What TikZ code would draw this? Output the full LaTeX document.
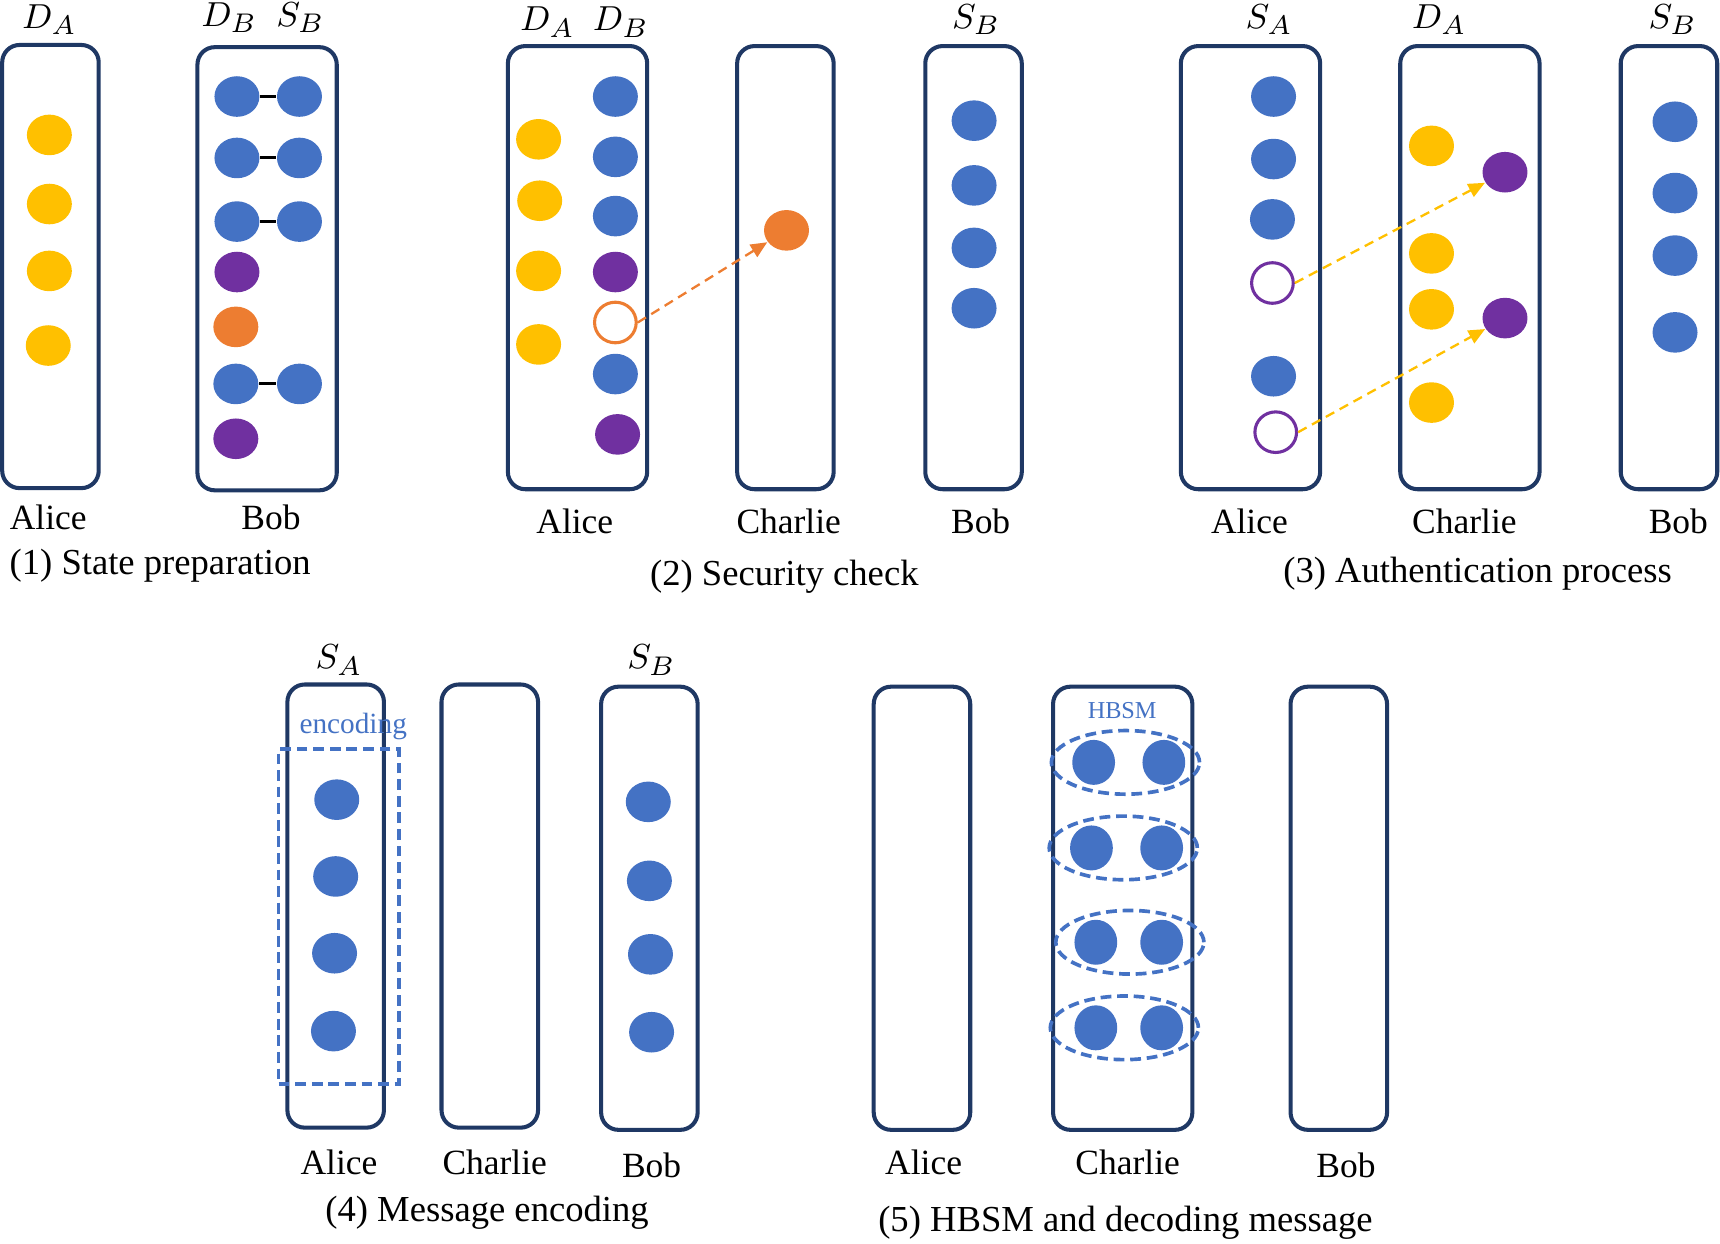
\documentclass[tikz,border=0pt]{standalone}
\usepackage{fontspec}
\setmainfont{Liberation Serif}
\usepackage{tikz}
\usetikzlibrary{arrows.meta,shapes.geometric}
\definecolor{framenavy}{RGB}{31,56,100}
\definecolor{qblue}{RGB}{68,114,196}
\definecolor{qyellow}{RGB}{255,192,0}
\definecolor{qpurple}{RGB}{112,48,160}
\definecolor{qorange}{RGB}{237,125,49}
\tikzset{
  party/.style={draw=framenavy,line width=1.05pt,rounded corners=4.5pt,
                minimum width=8.8mm,minimum height=40.4mm,inner sep=0pt},
  partywide/.style={party,minimum width=12.7mm},
  qubit/.style={ellipse,minimum width=4.1mm,minimum height=3.7mm,inner sep=0pt},
  blueq/.style={qubit,fill=qblue},
  yellowq/.style={qubit,fill=qyellow},
  purpleq/.style={qubit,fill=qpurple},
  orangeq/.style={qubit,fill=qorange},
  lostq/.style={qubit,draw,line width=0.8pt,fill=white,minimum width=3.8mm},
  link/.style={black,line width=0.8pt},
  flow/.style={-{Triangle[length=1.5mm,width=1.3mm]},dash pattern=on 2.5pt off 1.6pt,line width=0.6pt},
  who/.style={font=\fontsize{9.2}{10}\selectfont},
  caption/.style={font=\fontsize{9.5}{10}\selectfont},
  reg/.style={font=\fontsize{9.3}{10}\selectfont},
  op/.style={draw=qblue,dash pattern=on 2.8pt off 1.5pt,line width=0.95pt},
  optext/.style={text=qblue,inner sep=0pt},
}

\begin{document}
\begin{tikzpicture}[x=0.1mm,y=-0.1mm]
  \path[use as bounding box] (0,0) rectangle (1568,1134);

  % (1) state preparation
  \node[reg] (da1) at (45,18) {$D_A$};
  \node[party] (alice1) at (46,243) {};
  \node[yellowq] (a1y1) at (45,123) {};
  \node[yellowq] (a1y2) at (45,186) {};
  \node[yellowq] (a1y3) at (45,247) {};
  \node[yellowq] (a1y4) at (44,315) {};
  \node[who] at (44,472) {Alice};

  \node[reg] (db1) at (209,16) {$D_B$};
  \node[reg] (sb1) at (274,16) {$S_B$};
  \node[partywide] (bob1) at (243.5,245) {};
  \node[blueq] (b1d1) at (216,88) {};   \node[blueq] (b1s1) at (273,88) {};
  \node[blueq] (b1d2) at (216,144) {};  \node[blueq] (b1s2) at (273,144) {};
  \node[blueq] (b1d3) at (216,202) {};  \node[blueq] (b1s3) at (273,202) {};
  \node[purpleq] (b1p1) at (216,248) {};
  \node[orangeq] (b1o1) at (215,298) {};
  \node[blueq] (b1d4) at (215,350) {};  \node[blueq] (b1s4) at (273,350) {};
  \node[purpleq] (b1p2) at (215,400) {};
  \draw[link] (b1d1) -- (b1s1);
  \draw[link] (b1d2) -- (b1s2);
  \draw[link] (b1d3) -- (b1s3);
  \draw[link] (b1d4) -- (b1s4);
  \node[who] at (247,472) {Bob};
  \node[caption] at (146,516) {(1) State preparation};

  % (2) security check
  \node[reg] at (499,20) {$D_A$};
  \node[reg] at (566,20) {$D_B$};
  \node[partywide] (alice2) at (526.5,244) {};
  \node[yellowq] (a2y1) at (491,127) {};
  \node[yellowq] (a2y2) at (492,183) {};
  \node[yellowq] (a2y3) at (491,247) {};
  \node[yellowq] (a2y4) at (491,314) {};
  \node[blueq] (a2d1) at (561,88) {};
  \node[blueq] (a2d2) at (561,143) {};
  \node[blueq] (a2d3) at (561,197) {};
  \node[purpleq] (a2p1) at (561,248) {};
  \node[lostq,draw=qorange] (a2o1) at (561,294) {};
  \node[blueq] (a2d4) at (561,341) {};
  \node[purpleq] (a2p2) at (563,396) {};
  \node[party] (charlie2) at (716,244) {};
  \node[orangeq] (c2o1) at (717,210) {};
  \draw[flow,qorange] (a2o1.east) -- (c2o1);
  \node[reg] at (890,18) {$S_B$};
  \node[party] (bob2) at (887.5,244) {};
  \node[blueq] (b2s1) at (888,110) {};
  \node[blueq] (b2s2) at (888,169) {};
  \node[blueq] (b2s3) at (888,226) {};
  \node[blueq] (b2s4) at (888,281) {};
  \node[who] at (524,475) {Alice};
  \node[who] at (719,475) {Charlie};
  \node[who] at (894,475) {Bob};
  \node[caption] at (715,526) {(2) Security check};

  % (3) authentication process
  \node[reg] at (1157,18) {$S_A$};
  \node[reg] at (1312,18) {$D_A$};
  \node[reg] at (1525,18) {$S_B$};
  \node[partywide] (alice3) at (1140,244) {};
  \node[blueq] (a3s1) at (1161,88) {};
  \node[blueq] (a3s2) at (1161,145) {};
  \node[blueq] (a3s3) at (1160,200) {};
  \node[lostq,draw=qpurple] (a3l1) at (1160,258) {};
  \node[blueq] (a3s4) at (1161,343) {};
  \node[lostq,draw=qpurple] (a3l2) at (1163,394) {};
  \node[partywide] (charlie3) at (1340,244) {};
  \node[yellowq] (c3y1) at (1305,133) {};
  \node[yellowq] (c3y2) at (1305,231) {};
  \node[yellowq] (c3y3) at (1305,282) {};
  \node[yellowq] (c3y4) at (1305,367) {};
  \node[purpleq] (c3p1) at (1372,157) {};
  \node[purpleq] (c3p2) at (1372,290) {};
  \draw[flow,qyellow] (a3l1.east) -- (c3p1);
  \draw[flow,qyellow] (a3l2.east) -- (c3p2);
  \node[party] (bob3) at (1521.5,244) {};
  \node[blueq] (b3s1) at (1527,111) {};
  \node[blueq] (b3s2) at (1527,176) {};
  \node[blueq] (b3s3) at (1527,233) {};
  \node[blueq] (b3s4) at (1527,303) {};
  \node[who] at (1139,475) {Alice};
  \node[who] at (1335,475) {Charlie};
  \node[who] at (1530,475) {Bob};
  \node[caption] at (1347,523) {(3) Authentication process};

  % (4) message encoding
  \node[reg] at (309,602) {$S_A$};
  \node[reg] at (594,602) {$S_B$};
  \node[party] (alice4) at (306,826) {};
  \node[op,minimum width=11mm,minimum height=30.5mm] (enc) at (309,835.5) {};
  \node[optext,font=\fontsize{7.6}{8}\selectfont] at (322,662) {encoding};
  \node[blueq] (a4s1) at (307,729) {};
  \node[blueq] (a4s2) at (306,799) {};
  \node[blueq] (a4s3) at (305,869) {};
  \node[blueq] (a4s4) at (304,940) {};
  \node[party] (charlie4) at (446.5,826) {};
  \node[party] (bob4) at (592,828) {};
  \node[blueq] (b4s1) at (591,731) {};
  \node[blueq] (b4s2) at (592,803) {};
  \node[blueq] (b4s3) at (593,870) {};
  \node[blueq] (b4s4) at (594,941) {};
  \node[who] at (309,1060) {Alice};
  \node[who] at (451,1060) {Charlie};
  \node[who] at (594,1062) {Bob};
  \node[caption] at (444,1106) {(4) Message encoding};

  % (5) HBSM and decoding message
  \node[party] (alice5) at (840.5,828) {};
  \node[partywide] (charlie5) at (1023.5,828) {};
  \node[optext,font=\fontsize{6.3}{7}\selectfont] at (1023,648) {HBSM};
  \node[blueq,minimum width=3.9mm,minimum height=4.1mm] (c5a1) at (997,695) {};
  \node[blueq,minimum width=3.9mm,minimum height=4.1mm] (c5b1) at (1061,695) {};
  \node[blueq,minimum width=3.9mm,minimum height=4.1mm] (c5a2) at (995,773) {};
  \node[blueq,minimum width=3.9mm,minimum height=4.1mm] (c5b2) at (1059,773) {};
  \node[blueq,minimum width=3.9mm,minimum height=4.1mm] (c5a3) at (999,859) {};
  \node[blueq,minimum width=3.9mm,minimum height=4.1mm] (c5b3) at (1059,859) {};
  \node[blueq,minimum width=3.9mm,minimum height=4.1mm] (c5a4) at (999,937) {};
  \node[blueq,minimum width=3.9mm,minimum height=4.1mm] (c5b4) at (1059,937) {};
  \node[op,ellipse,minimum width=13.5mm,minimum height=5.8mm] (bsm1) at (1026,695) {};
  \node[op,ellipse,minimum width=13.5mm,minimum height=5.8mm] (bsm2) at (1024,773) {};
  \node[op,ellipse,minimum width=13.5mm,minimum height=5.8mm] (bsm3) at (1030,859) {};
  \node[op,ellipse,minimum width=13.5mm,minimum height=5.8mm] (bsm4) at (1025,937) {};
  \node[party] (bob5) at (1220.5,828) {};
  \node[who] at (842,1060) {Alice};
  \node[who] at (1028,1060) {Charlie};
  \node[who] at (1227,1062) {Bob};
  \node[caption] at (1026,1115) {(5) HBSM and decoding message};
\end{tikzpicture}
\end{document}
